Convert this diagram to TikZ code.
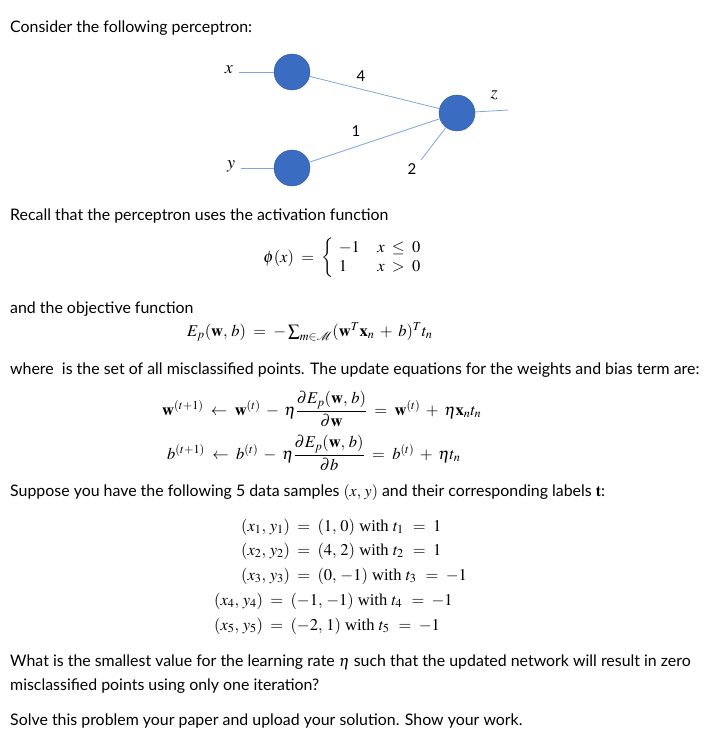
\documentclass[tikz,border=0pt]{standalone}
\usepackage{amsmath,amssymb}
\usepackage{mathptmx}
\usepackage{fontspec}
\setmainfont{Lato}
\newfontfamily\tms{Liberation Serif}
\definecolor{nodeblue}{HTML}{3A6CC2}
\definecolor{edgeblue}{HTML}{7FA6DC}
\thickmuskip=8mu plus 2mu
\medmuskip=6mu plus 2mu
\begin{document}
\begin{tikzpicture}[x=1pt,y=-1pt,
  txt/.style={anchor=west,inner sep=0pt,font=\fontsize{15.9}{18}\selectfont},
  eq/.style={inner sep=0pt,font=\fontsize{16.5}{19}\selectfont},
  neuron/.style={circle,fill=nodeblue,draw=nodeblue!80!black,line width=0.4pt,minimum size=36pt,inner sep=0pt},
  edge/.style={draw=edgeblue,line width=0.8pt},
  lab/.style={inner sep=0pt,font=\fontsize{18}{20}\selectfont}]
\useasboundingbox (0,0) rectangle (714,747);
\node[txt] (t1) at (10,28) {Consider the following perceptron:};
% network
\node[neuron] (n1) at (292,72) {};
\node[neuron] (n2) at (292,168) {};
\node[neuron] (n3) at (457,113) {};
\node[lab] (lx) at (229,70) {$x$};
\node[lab] (ly) at (231,166) {$y$};
\node[lab] (lz) at (494,95) {$z$};
\coordinate (xe) at (239,72);
\coordinate (ye) at (241,168);
\coordinate (ze) at (508,110);
\coordinate (be) at (421,160);
\draw[edge] (xe) -- (n1);
\draw[edge] (ye) -- (n2);
\draw[edge] (n3) -- (ze);
\draw[edge] (n3) -- (be);
\draw[edge] (n1) -- (n3);
\draw[edge] (n2) -- (n3);
\node[lab,font=\fontsize{15}{17}\selectfont] (w1) at (361,76) {4};
\node[lab,font=\fontsize{15}{17}\selectfont] (w2) at (356,131) {1};
\node[lab,font=\fontsize{15}{17}\selectfont] (w3) at (412,169) {2};
\node[txt] (t2) at (10,216) {Recall that the perceptron uses the activation function};
\node[eq] (e1) at (345,258) {$\phi(x)=\left\{\begin{array}{ll}-1\; & x\le 0\\ 1 & x>0\end{array}\right.$};
\node[txt] (t3) at (10,309) {and the objective function};
\node[eq,anchor=west] (e2) at (187,332) {$E_p(\mathbf{w},\,b)=-\sum_{m\in\mathcal{M}}(\mathbf{w}^T\mathbf{x}_n+b)^T t_n$};
\node[txt] (t4) at (10,370) {where\ \ is the set of all misclassified points. The update equations for the weights and bias term are:};
\node[eq,anchor=west] (e3) at (162,409) {$\mathbf{w}^{(t+1)}\leftarrow\mathbf{w}^{(t)}-\eta\dfrac{\partial E_p(\mathbf{w},\,b)}{\partial\mathbf{w}}=\mathbf{w}^{(t)}+\eta\mathbf{x}_n t_n$};
\node[eq,anchor=west] (e4) at (167,453) {$b^{(t+1)}\leftarrow b^{(t)}-\eta\dfrac{\partial E_p(\mathbf{w},\,b)}{\partial b}=b^{(t)}+\eta t_n$};
\node[txt] (t5) at (10,493) {Suppose you have the following 5 data samples $(x,\,y)$ and their corresponding labels $\mathbf{t}$:};
\node[eq,anchor=west] (d1) at (241,527) {$(x_1,\,y_1)=(1,\,0)$ {\tms with} $t_1\,=1$};
\node[eq,anchor=west] (d2) at (241,551) {$(x_2,\,y_2)=(4,\,2)$ {\tms with} $t_2\,=1$};
\node[eq,anchor=west] (d3) at (241,576) {$(x_3,\,y_3)=(0,\,-1)$ {\tms with} $t_3\,=-1$};
\node[eq,anchor=west] (d4) at (214,601) {$(x_4,\,y_4)=(-1,\,-1)$ {\tms with} $t_4\,=-1$};
\node[eq,anchor=west] (d5) at (214,626) {$(x_5,\,y_5)=(-2,\,1)$ {\tms with} $t_5\,=-1$};
\node[txt] (t6) at (10,662) {What is the smallest value for the learning rate $\eta$ such that the updated network will result in zero};
\node[txt] (t7) at (10,686) {misclassified points using only one iteration?};
\node[txt] (t8) at (10,721) {Solve this problem your paper and upload your solution. Show your work.};
\end{tikzpicture}
\end{document}
